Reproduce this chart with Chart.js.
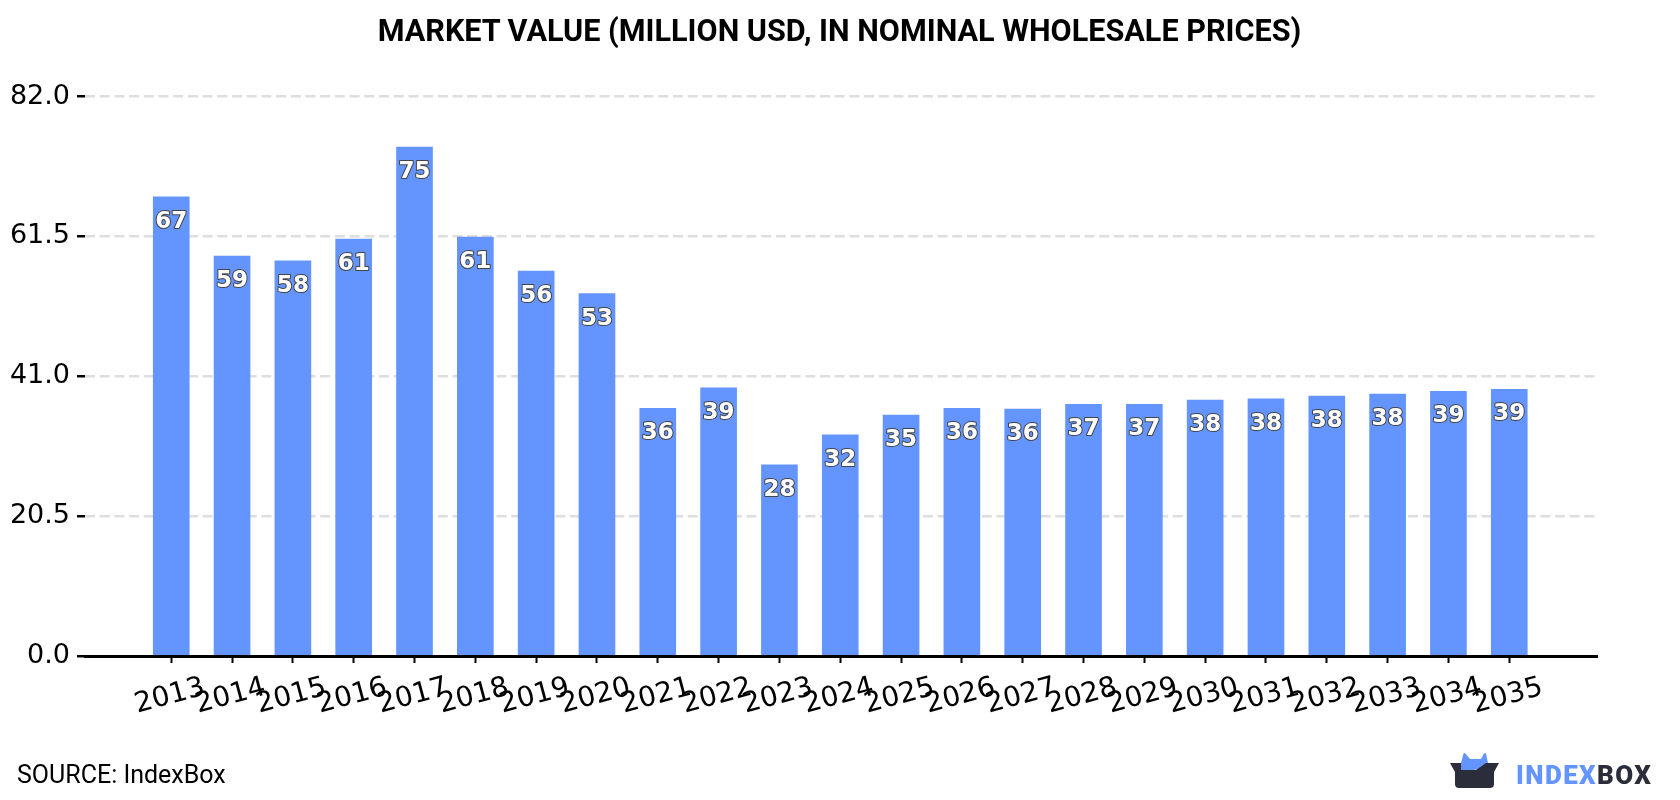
<!DOCTYPE html>
<html>
<head>
<meta charset="utf-8">
<script src="https://cdn.jsdelivr.net/npm/chart.js@4"></script>
<style>
  html, body { margin: 0; padding: 0; background: #fff; overflow: hidden; }
  #wrap { position: relative; width: 1680px; height: 800px; }
  canvas { display: block; }
  #title { position: absolute; left: 0; width: 1679px; top: 13px; text-align: center; font: 700 30.6px/36px Roboto, sans-serif; color: #000; white-space: nowrap; }
  #source { position: absolute; left: 17px; top: 760px; font: 400 25px Roboto, sans-serif; color: #000; white-space: nowrap; }
  #logo { position: absolute; left: 1445px; top: 748px; }
  #brand { position: absolute; left: 1516px; top: 760px; font: 900 26px Roboto, sans-serif; letter-spacing: 1.4px; line-height: 30px; white-space: nowrap; }
  #brand .a { color: #6495ff; }
  #brand .b { color: #2b2d3a; }
</style>
</head>
<body>
<div id="wrap">
  <canvas id="chart" width="1680" height="800"></canvas>
  <div id="title">MARKET VALUE (MILLION USD, IN NOMINAL WHOLESALE PRICES)</div>
  <div id="source">SOURCE: IndexBox</div>
  <svg id="logo" width="60" height="46" viewBox="1445 748 60 46">
    <path d="M1461 763 L1463.5 753.5 Q1464.5 752.5 1465.5 753.5 L1470 759 L1481 759 L1484 753.5 Q1485 752.5 1486 753.5 L1488 763 L1486 768 L1461 772 Z" fill="#6495ff"/>
    <path d="M1450 763 L1461 763 L1461 770 L1476 770 L1486 763 L1499 763 L1494 772 L1494 784 Q1494 788 1490 788 L1459 788 Q1455 788 1455 784 L1455 772 Z" fill="#2b2d3a"/>
  </svg>
  <div id="brand"><span class="a">INDEX</span><span class="b">BOX</span></div>
</div>
<script>
// Market value by year, million USD
const years = [2013, 2014, 2015, 2016, 2017, 2018, 2019, 2020, 2021, 2022, 2023, 2024,
               2025, 2026, 2027, 2028, 2029, 2030, 2031, 2032, 2033, 2034, 2035];
const marketValue = [67.3, 58.6, 57.9, 61.1, 74.6, 61.4, 56.4, 53.1, 36.3, 39.3, 28.0, 32.4,
                     35.3, 36.3, 36.2, 36.9, 36.9, 37.5, 37.7, 38.1, 38.4, 38.8, 39.1];
const yTicks = [0, 20.5, 41, 61.5, 82];

// Rounded value printed inside the top of each bar
const barValueLabels = {
  id: 'barValueLabels',
  afterDatasetsDraw(chart) {
    const { ctx } = chart;
    const meta = chart.getDatasetMeta(0);
    ctx.save();
    ctx.font = 'bold 23px "DejaVu Sans"';
    ctx.textAlign = 'center';
    ctx.textBaseline = 'middle';
    ctx.lineJoin = 'round';
    meta.data.forEach((bar, i) => {
      const text = String(Math.round(marketValue[i]));
      const y = bar.y + 25;
      ctx.lineWidth = 2;
      ctx.strokeStyle = '#444444';
      ctx.strokeText(text, bar.x, y);
      ctx.fillStyle = '#ffffff';
      ctx.fillText(text, bar.x, y);
    });
    ctx.restore();
  }
};

new Chart(document.getElementById('chart'), {
  type: 'bar',
  data: {
    datasets: [{
      data: years.map((year, i) => ({ x: year, y: marketValue[i] })),
      backgroundColor: '#6495ff',
      borderWidth: 0,
      barThickness: 36
    }]
  },
  plugins: [barValueLabels],
  options: {
    responsive: false,
    animation: false,
    devicePixelRatio: 1,
    layout: { padding: { left: 0, right: 82.5, top: 96.5, bottom: 0 } },
    plugins: {
      legend: { display: false },
      tooltip: { enabled: false },
      title: { display: false }
    },
    scales: {
      x: {
        type: 'linear',
        offset: false,
        min: 2011.582,
        max: 2036.451,
        afterBuildTicks(scale) { scale.ticks = years.map(value => ({ value })); },
        afterFit(scale) { scale.height = 144; },
        grid: { offset: false, drawOnChartArea: false, drawTicks: true, tickColor: '#000', tickWidth: 2, tickLength: 7 },
        border: { display: true, color: '#000', width: 3 },
        ticks: {
          autoSkip: false,
          minRotation: 15,
          maxRotation: 15,
          labelOffset: 33,
          padding: 8,
          color: '#000',
          font: { family: 'DejaVu Sans', size: 28 },
          callback: value => String(value)
        }
      },
      y: {
        type: 'linear',
        min: 0,
        max: 82,
        afterBuildTicks(scale) { scale.ticks = yTicks.map(value => ({ value })); },
        afterFit(scale) { scale.width = 85; },
        grid: {
          color: ctx => (ctx.tick && ctx.tick.value === 0 ? 'transparent' : '#dedede'),
          lineWidth: 2.5,
          tickColor: '#000',
          tickWidth: 2.5,
          tickLength: 8,
          tickBorderDash: []
        },
        border: { display: false, dash: [10, 4.7] },
        ticks: {
          padding: 7,
          color: '#000',
          font: { family: 'DejaVu Sans', size: 27 },
          callback: value => value.toFixed(1)
        }
      }
    }
  }
});
</script>
</body>
</html>
